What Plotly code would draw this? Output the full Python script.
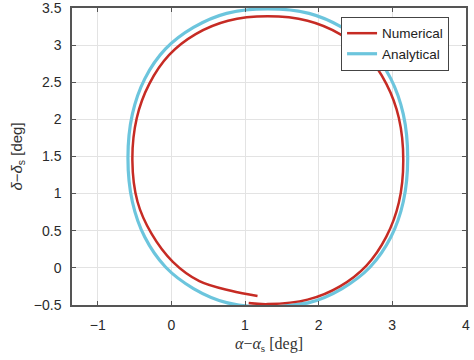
import plotly.graph_objects as go

# Numerical trajectory
num_x = [1.05, 1.31, 1.85, 2.29, 2.65, 2.92, 3.09, 3.15, 3.09, 2.92, 2.65, 2.29, 1.85, 1.31,
         0.77, 0.33, -0.03, -0.30, -0.47, -0.53, -0.46, -0.27, 0.02, 0.38, 0.81, 1.17]
num_y = [-0.475, -0.49, -0.43, -0.25, 0.03, 0.42, 0.88, 1.45, 2.02, 2.48, 2.87, 3.15, 3.33, 3.39,
         3.33, 3.15, 2.87, 2.48, 2.02, 1.45, 0.89, 0.46, 0.08, -0.18, -0.31, -0.38]

# Analytical trajectory
ana_x = [1.31, 1.87, 2.32, 2.70, 2.98, 3.15, 3.21, 3.15, 2.98, 2.70, 2.32, 1.87, 1.31,
         0.75, 0.30, -0.08, -0.36, -0.53, -0.59, -0.53, -0.36, -0.08, 0.30, 0.75, 1.31, 1.87]
ana_y = [-0.53, -0.47, -0.28, 0.01, 0.41, 0.89, 1.48, 2.07, 2.55, 2.95, 3.24, 3.43, 3.49,
         3.43, 3.24, 2.95, 2.55, 2.07, 1.48, 0.89, 0.41, 0.01, -0.28, -0.47, -0.53, -0.47]

x_ticks = [-1, 0, 1, 2, 3, 4]
x_labels = ["\u22121", "0", "1", "2", "3", "4"]
y_ticks = [-0.5, 0, 0.5, 1, 1.5, 2, 2.5, 3, 3.5]
y_labels = ["\u22120.5", "0", "0.5", "1", "1.5", "2", "2.5", "3", "3.5"]

fig = go.Figure()
fig.add_trace(go.Scatter(x=ana_x, y=ana_y, mode="lines", name="Analytical",
                         line=dict(color="#6CC5DD", width=3.2, shape="spline")))
fig.add_trace(go.Scatter(x=num_x, y=num_y, mode="lines", name="Numerical",
                         line=dict(color="#C62B24", width=2.5, shape="spline")))

axis_common = dict(showgrid=True, gridcolor="#E3E3E3", gridwidth=1, zeroline=False,
                   showline=True, linecolor="#555555", linewidth=1.5, mirror="ticks",
                   ticks="inside", ticklen=4, tickcolor="#555555", automargin=False,
                   ticklabeloverflow="allow",
                   tickfont=dict(family="Liberation Sans, Arial, sans-serif", size=14, color="#2a2a2a"))

fig.update_layout(
    width=474, height=360,
    margin=dict(l=72, r=8, t=8, b=55),
    paper_bgcolor="white", plot_bgcolor="white",
    showlegend=True,
    legend=dict(x=0.957, y=0.97, xanchor="right", yanchor="top",
                bgcolor="white", bordercolor="#444444", borderwidth=1,
                font=dict(family="Liberation Sans, Arial, sans-serif", size=13.5, color="#222222"),
                traceorder="reversed", tracegroupgap=0, itemwidth=30),
    xaxis=dict(range=[-1.35, 4.002], tickvals=x_ticks, ticktext=x_labels, ticklabelstandoff=6,
               title=dict(text="<i>\u03b1</i>\u2212<i>\u03b1</i><sub>s</sub> [deg]",
                          font=dict(family="Liberation Serif, Times New Roman, serif", size=16, color="#333333"),
                          standoff=6),
               **axis_common),
    yaxis=dict(range=[-0.502, 3.502], tickvals=y_ticks, ticktext=y_labels, ticklabelstandoff=6,
               title=dict(text="<i>\u03b4</i>\u2212<i>\u03b4</i><sub>s</sub> [deg]",
                          font=dict(family="Liberation Sans, Arial, sans-serif", size=15, color="#333333"),
                          standoff=8),
               **axis_common),
)

fig.write_html("out.html", config={"displayModeBar": False},
               post_script="document.body.style.margin='0px';")
